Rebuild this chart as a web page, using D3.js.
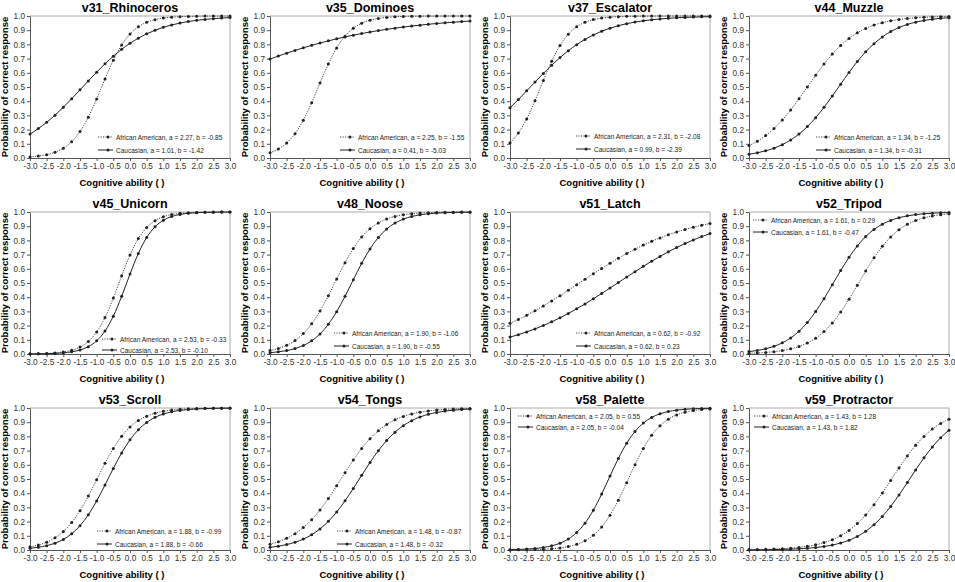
<!DOCTYPE html>
<html>
<head>
<meta charset="utf-8">
<script src="https://cdn.jsdelivr.net/npm/d3@7"></script>
<style>
body { margin: 0; background: #fff; }
svg { display: block; }
</style>
</head>
<body>
<svg id="svg" width="955" height="582"></svg>
<script>
// item names and 2PL parameters as printed in each legend
const items = ["v31_Rhinoceros", "v35_Dominoes", "v37_Escalator", "v44_Muzzle",
               "v45_Unicorn", "v48_Noose", "v51_Latch", "v52_Tripod",
               "v53_Scroll", "v54_Tongs", "v58_Palette", "v59_Protractor"];
const aaA = [2.27, 2.25, 2.31, 1.34, 2.53, 1.90, 0.62, 1.61, 1.88, 1.48, 2.05, 1.43];
const aaB = [-0.85, -1.55, -2.08, -1.25, -0.33, -1.06, -0.92, 0.29, -0.99, -0.87, 0.55, 1.28];
const caA = [1.01, 0.41, 0.99, 1.34, 2.53, 1.90, 0.62, 1.61, 1.88, 1.48, 2.05, 1.43];
const caB = [-1.42, -5.03, -2.39, -0.31, -0.10, -0.55, 0.23, -0.47, -0.66, -0.32, -0.04, 1.82];

// ability points where markers sit
const thetas = [-3, -2.75, -2.5, -2.25, -2, -1.75, -1.5, -1.25, -1, -0.75, -0.5, -0.25, 0,
                0.25, 0.5, 0.75, 1, 1.25, 1.5, 1.75, 2, 2.25, 2.5, 2.75, 3];
const xTicks = [-3, -2.5, -2, -1.5, -1, -0.5, 0, 0.5, 1, 1.5, 2, 2.5, 3];
const yTicks = [0, 0.1, 0.2, 0.3, 0.4, 0.5, 0.6, 0.7, 0.8, 0.9, 1];

// layout
const colLeft = [30, 270, 510, 749];
const rowTop = [16, 212, 408];
const pw = 200, ph = 142;
// legend anchor per panel: [x offset of sample, y offset of first row, row gap]
const legendAt = [[68, 121, 13], [70, 121, 13], [66, 120, 13], [67, 121, 13],
                  [72, 127, 11], [64, 121, 13], [66, 121, 13], [4, 8, 12],
                  [67, 123, 13], [67, 123, 13], [8, 8, 11], [5, 8, 11]];

const svg = d3.select("#svg");
const font = "'Liberation Sans', Arial, sans-serif";

function icc(a, b, t) {
    return 1 / (1 + Math.exp(-a * (t - b)));
}

items.forEach((name, i) => {
    const x0 = colLeft[i % 4], y0 = rowTop[Math.floor(i / 4)];
    const g = svg.append("g").attr("transform", `translate(${x0},${y0})`);

    const xs = d3.scaleLinear().domain([-3, 3]).range([0, pw]);
    const ys = d3.scaleLinear().domain([0, 1]).range([ph, 0]);

    // frame: top/right light
    g.append("line").attr("x1", 0).attr("x2", pw).attr("y1", 0).attr("y2", 0)
        .attr("stroke", "#aaa").attr("stroke-width", 1);
    g.append("line").attr("x1", pw).attr("x2", pw).attr("y1", 0).attr("y2", ph)
        .attr("stroke", "#aaa").attr("stroke-width", 1);

    const xAxis = g.append("g").attr("transform", `translate(0,${ph})`)
        .call(d3.axisBottom(xs).tickValues(xTicks).tickFormat(d3.format(".1f"))
            .tickSizeInner(3).tickSizeOuter(0).tickPadding(2));
    const yAxis = g.append("g")
        .call(d3.axisLeft(ys).tickValues(yTicks).tickFormat(d3.format(".1f"))
            .tickSizeInner(3).tickSizeOuter(0).tickPadding(2));
    [xAxis, yAxis].forEach(ax => {
        ax.selectAll("path").attr("stroke", "#555");
        ax.selectAll("line").attr("stroke", "#555");
        ax.selectAll("text").attr("font-family", font).attr("font-size", 8.2)
            .attr("fill", "#333");
    });
    xAxis.selectAll("text").text(d => d.toFixed(1).replace("-0.0", "0.0"));

    // title and axis labels
    g.append("text").attr("x", pw / 2).attr("y", -4).attr("text-anchor", "middle")
        .attr("font-family", font).attr("font-size", 12.5).attr("font-weight", "bold")
        .text(name);
    g.append("text").attr("x", pw / 2 - 8).attr("y", ph + 28).attr("text-anchor", "middle")
        .attr("font-family", font).attr("font-size", 9.5).attr("font-weight", "bold")
        .text("Cognitive ability (   )");
    g.append("text").attr("transform", `translate(-22,${ph / 2}) rotate(-90)`)
        .attr("text-anchor", "middle")
        .attr("font-family", font).attr("font-size", 9.5).attr("font-weight", "bold")
        .text("Probability of correct response");

    const series = [
        { label: "African American", a: aaA[i], b: aaB[i], dash: "1.2,1.3", color: "#444" },
        { label: "Caucasian", a: caA[i], b: caB[i], dash: null, color: "#222" }
    ];

    const line = d3.line().x(d => xs(d[0])).y(d => ys(d[1])).curve(d3.curveMonotoneX);

    series.forEach(s => {
        const pts = thetas.map(t => [t, icc(s.a, s.b, t)]);
        g.append("path").datum(pts).attr("d", line).attr("fill", "none")
            .attr("stroke", s.color).attr("stroke-width", 1)
            .attr("stroke-dasharray", s.dash);
        g.selectAll(null).data(pts).enter().append("circle")
            .attr("cx", d => xs(d[0])).attr("cy", d => ys(d[1])).attr("r", 1.5)
            .attr("fill", "#222");
    });

    // legend
    const [lx, ly, gap] = legendAt[i];
    series.forEach((s, k) => {
        const yy = ly + k * gap;
        g.append("line").attr("x1", lx).attr("x2", lx + 15).attr("y1", yy).attr("y2", yy)
            .attr("stroke", s.color).attr("stroke-width", 1)
            .attr("stroke-dasharray", s.dash);
        g.append("circle").attr("cx", lx + 10).attr("cy", yy).attr("r", 1.5).attr("fill", "#222");
        g.append("text").attr("transform", `translate(${lx + 18},${yy + 2.7}) scale(0.86,1)`)
            .attr("font-family", font).attr("font-size", 7.6).attr("fill", "#222")
            .text(`${s.label}, a = ${s.a.toFixed(2)}, b = ${s.b.toFixed(2)}`);
    });
});
</script>
</body>
</html>
